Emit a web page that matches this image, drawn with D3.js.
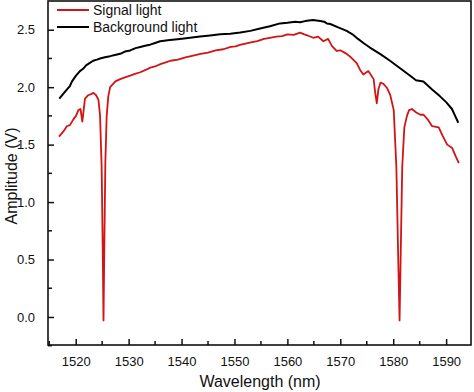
<!DOCTYPE html>
<html>
<head>
<meta charset="utf-8">
<script src="https://cdn.jsdelivr.net/npm/d3@7"></script>
<style>
  html, body { margin: 0; padding: 0; background: #fff; }
  svg { display: block; font-family: "Liberation Sans", Arial, sans-serif; }
</style>
</head>
<body>
<div id="chart"></div>
<script>
// background light (black) — wavelength (nm), amplitude (V)
const bgWave = [1516.9, 1517.6, 1518.35, 1518.9, 1519.3, 1520.05, 1520.8, 1521.4, 1521.95, 1522.6, 1523.3, 1524.0, 1524.6,
  1525.5, 1526.5, 1527.4, 1528.4, 1529.3, 1530.3, 1531.3, 1532.2, 1533.1, 1534.05, 1535.0, 1535.95, 1537.8, 1539.7,
  1541.6, 1543.5, 1545.4, 1547.3, 1549.2, 1551.1, 1553.0, 1554.85, 1556.7, 1558.6, 1560.0, 1561.5, 1562.4, 1563.35,
  1564.1, 1564.85, 1565.5, 1566.2, 1566.95, 1567.45, 1568.1, 1569.6, 1571.2, 1572.3, 1573.35, 1574.5, 1575.6,
  1577.5, 1579.4, 1581.3, 1583.2, 1584.3, 1585.7, 1587.35, 1588.85, 1590.0, 1591.1, 1591.7, 1592.3];
const bgAmp = [1.90, 1.94, 1.98, 2.01, 2.05, 2.10, 2.14, 2.16, 2.19, 2.21, 2.23, 2.24, 2.25,
  2.26, 2.27, 2.28, 2.29, 2.31, 2.32, 2.34, 2.35, 2.36, 2.37, 2.385, 2.40, 2.41, 2.42,
  2.43, 2.44, 2.45, 2.46, 2.465, 2.475, 2.49, 2.51, 2.53, 2.555, 2.56, 2.57, 2.565, 2.575,
  2.58, 2.585, 2.58, 2.575, 2.57, 2.555, 2.55, 2.52, 2.49, 2.46, 2.42, 2.38, 2.345,
  2.29, 2.23, 2.165, 2.10, 2.06, 2.05, 1.98, 1.92, 1.87, 1.81, 1.75, 1.69];

// signal light (red)
const sigWave = [1516.83, 1517.4, 1517.9, 1518.3, 1518.9, 1519.55, 1520.05, 1520.5, 1520.9, 1521.25, 1521.5, 1521.75,
  1522.35, 1522.9, 1523.35, 1523.85, 1524.3, 1524.6, 1524.9, 1525.1, 1525.25, 1525.4, 1525.6, 1525.85, 1526.15,
  1526.5, 1527.5, 1528.4, 1529.3, 1530.3, 1531.2, 1532.2, 1533.2, 1534.1, 1535.0, 1536.0, 1537.0, 1537.9, 1539.3,
  1540.75, 1542.2, 1543.6, 1545.0, 1546.45, 1547.9, 1549.3, 1550.2, 1551.2, 1552.1, 1553.1, 1554.3, 1555.6,
  1556.7, 1557.9, 1559.0, 1560.0, 1561.2, 1562.4, 1563.2, 1563.8, 1564.9, 1565.8, 1566.8, 1567.7, 1568.4, 1569.3,
  1570.1, 1571.2, 1572.0, 1573.1, 1573.75, 1574.35, 1575.3, 1576.3, 1576.6, 1576.9, 1577.2, 1577.6, 1578.1,
  1578.8, 1579.45, 1580.1, 1580.6, 1580.95, 1581.2, 1581.4, 1581.7, 1582.1, 1582.6, 1583.0, 1583.55, 1584.35,
  1585.15, 1585.75, 1586.5, 1587.35, 1588.6, 1589.3, 1590.2, 1591.15, 1591.8, 1592.4];
const sigAmp = [1.57, 1.60, 1.63, 1.66, 1.67, 1.72, 1.75, 1.80, 1.81, 1.70, 1.80, 1.90,
  1.93, 1.94, 1.95, 1.93, 1.89, 1.75, 1.30, 0.60, -0.03, 0.60, 1.35, 1.75, 1.92,
  2.00, 2.05, 2.07, 2.085, 2.10, 2.115, 2.13, 2.15, 2.17, 2.18, 2.20, 2.215, 2.23, 2.24,
  2.26, 2.275, 2.29, 2.30, 2.32, 2.33, 2.35, 2.355, 2.37, 2.38, 2.39, 2.40, 2.42,
  2.43, 2.44, 2.445, 2.46, 2.455, 2.475, 2.46, 2.45, 2.43, 2.44, 2.40, 2.42, 2.36, 2.315,
  2.32, 2.29, 2.26, 2.21, 2.15, 2.11, 2.14, 2.07, 1.95, 1.86, 1.98, 2.04, 2.03,
  1.995, 1.93, 1.80, 1.30, 0.50, -0.03, 0.50, 1.30, 1.65, 1.75, 1.80, 1.81, 1.78,
  1.76, 1.76, 1.72, 1.66, 1.65, 1.58, 1.50, 1.47, 1.40, 1.34];

const xTicks = [1520, 1530, 1540, 1550, 1560, 1570, 1580, 1590];
const yTicks = [0.0, 0.5, 1.0, 1.5, 2.0, 2.5];
const seriesNames = ["Signal light", "Background light"];
const seriesColors = ["#d21414", "#000000"];

const W = 474, H = 392;
const plot = { left: 48, right: 471, top: 1, bottom: 345 };

const svg = d3.select("#chart").append("svg")
  .attr("width", W).attr("height", H);

const x = d3.scaleLinear().domain([1514.76, 1594.7]).range([plot.left, plot.right]);
const y = d3.scaleLinear().domain([-0.244, 2.75]).range([plot.bottom, plot.top]);

// minor ticks halfway between majors
const xMinor = d3.range(1515, 1595, 5).filter(v => v % 10 !== 0);
const yMinor = d3.range(-0.25, 2.75, 0.25).filter(v => Math.abs((v * 2) % 1) > 0.01);

const axisColor = "#111";

// x axis (ticks pointing inward)
const gx = svg.append("g").attr("transform", `translate(0,${plot.bottom})`);
gx.call(d3.axisBottom(x).tickValues(xTicks).tickSizeInner(-6).tickSizeOuter(0).tickPadding(12).tickFormat(d3.format("d")))
  .call(g => g.select(".domain").remove())
  .call(g => g.selectAll("text").attr("font-size", 13).attr("fill", "#111").attr("font-family", "Liberation Sans, Arial, sans-serif"))
  .call(g => g.selectAll(".tick line").attr("stroke", axisColor).attr("stroke-width", 1.5));
gx.selectAll(".minor").data(xMinor).join("line")
  .attr("x1", d => x(d)).attr("x2", d => x(d)).attr("y1", 0).attr("y2", -4)
  .attr("stroke", axisColor).attr("stroke-width", 1.5);

// y axis
const gy = svg.append("g").attr("transform", `translate(${plot.left},0)`);
gy.call(d3.axisLeft(y).tickValues(yTicks).tickSizeInner(-6).tickSizeOuter(0).tickPadding(13).tickFormat(d3.format(".1f")))
  .call(g => g.select(".domain").remove())
  .call(g => g.selectAll("text").attr("font-size", 13).attr("fill", "#111").attr("font-family", "Liberation Sans, Arial, sans-serif"))
  .call(g => g.selectAll(".tick line").attr("stroke", axisColor).attr("stroke-width", 1.5));
gy.selectAll(".minor").data(yMinor).join("line")
  .attr("x1", 0).attr("x2", 4).attr("y1", d => y(d)).attr("y2", d => y(d))
  .attr("stroke", axisColor).attr("stroke-width", 1.5);

// frame
svg.append("rect")
  .attr("x", plot.left).attr("y", plot.top)
  .attr("width", plot.right - plot.left).attr("height", plot.bottom - plot.top)
  .attr("fill", "none").attr("stroke", axisColor).attr("stroke-width", 1.6);

// curves
const line = d3.line().x(d => x(d[0])).y(d => y(d[1]));
const bgData = bgWave.map((w, i) => [w, bgAmp[i]]);
const sigData = sigWave.map((w, i) => [w, sigAmp[i]]);

svg.append("path").datum(bgData)
  .attr("d", line).attr("fill", "none")
  .attr("stroke", seriesColors[1]).attr("stroke-width", 2).attr("stroke-linejoin", "round");
svg.append("path").datum(sigData)
  .attr("d", line).attr("fill", "none")
  .attr("stroke", seriesColors[0]).attr("stroke-width", 1.8).attr("stroke-linejoin", "round");

// legend
const legend = svg.append("g");
seriesNames.forEach((name, i) => {
  const ly = 10 + i * 17;
  legend.append("line")
    .attr("x1", 57).attr("x2", 89).attr("y1", ly).attr("y2", ly)
    .attr("stroke", seriesColors[i]).attr("stroke-width", 2);
  legend.append("text")
    .attr("x", 93).attr("y", ly + 5)
    .attr("font-size", 14).attr("fill", "#111")
    .text(name);
});

// axis titles
svg.append("text")
  .attr("x", 260).attr("y", 387)
  .attr("text-anchor", "middle").attr("font-size", 16).attr("fill", "#111")
  .text("Wavelength (nm)");
svg.append("text")
  .attr("transform", "translate(17,176) rotate(-90)")
  .attr("text-anchor", "middle").attr("font-size", 16).attr("fill", "#111")
  .text("Amplitude (V)");
</script>
</body>
</html>
